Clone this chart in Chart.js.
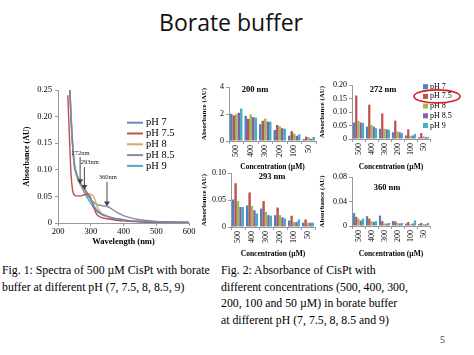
<!DOCTYPE html>
<html><head><meta charset="utf-8">
<script src="https://cdn.jsdelivr.net/npm/chart.js@4/dist/chart.umd.min.js"></script>
<style>
html,body{margin:0;padding:0;background:#fff;width:474px;height:355px;overflow:hidden;position:relative}
canvas{position:absolute}
.t{position:absolute;font-family:"Liberation Serif";color:#000;white-space:nowrap}
</style></head><body>
<div class="t" style="font-family:'Open Sans';font-size:23px;line-height:23px;left:0;width:462px;text-align:center;top:11px;color:#111">Borate buffer</div>
<canvas id="spec" width="200" height="170" style="left:0;top:78px"></canvas>
<canvas id="b200" width="124" height="94" style="left:198px;top:78px"></canvas>
<canvas id="b272" width="158" height="94" style="left:316px;top:78px"></canvas>
<canvas id="b293" width="124" height="94" style="left:198px;top:165px"></canvas>
<canvas id="b360" width="158" height="94" style="left:316px;top:165px"></canvas>
<div class="t" style="left:2px;top:262px;font-size:11.8px;line-height:16.5px">Fig. 1: Spectra of 500 µM CisPt with borate<br>buffer at different pH (7, 7.5, 8, 8.5, 9)</div>
<div class="t" style="left:221px;top:262px;font-size:11.8px;line-height:16.5px">Fig. 2: Absorbance of CisPt with<br>different concentrations (500, 400, 300,<br>200, 100 and 50 µM) in borate buffer<br>at different pH (7, 7.5, 8, 8.5 and 9)</div>
<div class="t" style="left:440px;top:333px;font-family:'Open Sans';font-size:9px;color:#555">5</div>
<script>
// ---------- data ----------
const phLabels = ['pH 7', 'pH 7.5', 'pH 8', 'pH 8.5', 'pH 9'];
const wavelengths = [230,235,240,245,250,255,260,265,270,275,280,285,290,295,300,305,310,315,320,330,340,350,360,370,380,400,420,450,500,550,600];
const specPH7   = [0.45,0.28,0.20,0.145,0.11,0.096,0.086,0.079,0.073,0.069,0.065,0.061,0.056,0.050,0.044,0.038,0.032,0.027,0.023,0.018,0.015,0.013,0.011,0.009,0.008,0.006,0.004,0.003,0.002,0.001,0.001];
const specPH75  = [0.24,0.16,0.09,0.06,0.053,0.051,0.051,0.051,0.051,0.052,0.053,0.054,0.054,0.052,0.047,0.038,0.028,0.020,0.015,0.011,0.009,0.008,0.007,0.006,0.005,0.004,0.003,0.002,0.001,0.001,0.001];
const specPH8   = [0.45,0.28,0.20,0.145,0.11,0.095,0.085,0.077,0.071,0.066,0.062,0.058,0.056,0.055,0.054,0.052,0.048,0.040,0.030,0.020,0.015,0.012,0.010,0.008,0.007,0.005,0.004,0.003,0.002,0.001,0.001];
const specPH85  = [0.45,0.28,0.20,0.145,0.112,0.097,0.087,0.080,0.074,0.067,0.061,0.056,0.052,0.048,0.044,0.041,0.038,0.036,0.035,0.033,0.032,0.031,0.028,0.024,0.020,0.014,0.010,0.006,0.003,0.002,0.001];
const specPH9   = [0.44,0.27,0.19,0.14,0.105,0.092,0.083,0.076,0.070,0.064,0.058,0.052,0.047,0.042,0.037,0.032,0.028,0.024,0.021,0.017,0.014,0.012,0.010,0.009,0.008,0.006,0.004,0.003,0.002,0.001,0.001];
const specArrows = [
  {text:'272nm', wl:266, top:0.124, tip:0.073, labelWl:269, labelY:0.131},
  {text:'293nm', wl:279, top:0.105, tip:0.062, labelWl:297, labelY:0.115},
  {text:'360nm', wl:348, top:0.077, tip:0.031, labelWl:352, labelY:0.086}
];
const concLabels = ['500','400','300','200','100','50'];
// rows: pH 7, 7.5, 8, 8.5, 9
const abs200 = [
  [2.02,1.86,1.25,0.82,0.39,0.14],
  [1.90,1.64,1.50,1.18,0.73,0.32],
  [1.98,1.98,1.66,1.09,0.55,0.27],
  [2.09,1.77,1.43,0.95,0.39,0.16],
  [2.40,1.73,1.43,0.90,0.50,0.30]
];
const abs272 = [
  [0.061,0.046,0.038,0.025,0.013,0.007],
  [0.161,0.127,0.095,0.068,0.036,0.022],
  [0.067,0.052,0.038,0.028,0.012,0.010],
  [0.061,0.046,0.036,0.025,0.013,0.007],
  [0.060,0.040,0.034,0.022,0.019,0.007]
];
const abs293 = [
  [0.051,0.040,0.034,0.022,0.012,0.008],
  [0.081,0.064,0.048,0.036,0.021,0.014],
  [0.048,0.039,0.028,0.022,0.009,0.008],
  [0.037,0.031,0.022,0.018,0.009,0.008],
  [0.037,0.025,0.021,0.016,0.014,0.008]
];
const abs360 = [
  [0.021,0.016,0.017,0.008,0.004,0.003],
  [0.015,0.012,0.008,0.0076,0.0065,0.005],
  [0.012,0.008,0.004,0.005,0.003,0.003],
  [0.009,0.0065,0.004,0.004,0.004,0.003],
  [0.012,0.008,0.005,0.005,0.009,0.005]
];
// ---------- styles ----------
const lineColors = ['#7088ad','#c0504d','#d8a866','#8e8a98','#4bacc6'];
const barColors  = ['#4f81bd','#c0504d','#9bbb59','#8064a2','#4bacc6'];
const SERIF = 'Liberation Serif';
const f = (size, bold) => ({family: SERIF, size, weight: bold ? 'bold' : 'normal'});

const overlay = {
  id: 'overlay',
  afterDraw(chart, args, o) {
    const ctx = chart.ctx, a = chart.chartArea;
    ctx.save();
    if (o.inner) {
      ctx.font = o.inner.font; ctx.fillStyle = '#000';
      ctx.textAlign = 'center'; ctx.textBaseline = 'middle';
      ctx.fillText(o.inner.text, a.left + o.inner.dx, a.top + o.inner.dy);
    }
    if (o.arrows) {
      const xs = chart.scales.x, ys = chart.scales.y;
      o.arrows.forEach(ar => {
        const x = xs.getPixelForValue(ar.wl), y1 = ys.getPixelForValue(ar.top), y2 = ys.getPixelForValue(ar.tip);
        ctx.strokeStyle = '#444'; ctx.fillStyle = '#444'; ctx.lineWidth = 1;
        ctx.beginPath(); ctx.moveTo(x + 0.5, y1); ctx.lineTo(x + 0.5, y2 - 4); ctx.stroke();
        ctx.beginPath(); ctx.moveTo(x + 0.5, y2); ctx.lineTo(x - 2.5, y2 - 5); ctx.lineTo(x + 3.5, y2 - 5); ctx.closePath(); ctx.fill();
        ctx.font = '6.5px "Liberation Serif"'; ctx.fillStyle = '#222';
        ctx.textAlign = 'center'; ctx.textBaseline = 'middle';
        ctx.fillText(ar.text, xs.getPixelForValue(ar.labelWl), ys.getPixelForValue(ar.labelY));
      });
    }
    if (o.legend) {
      const L = o.legend;
      chart.data.datasets.forEach((ds, i) => {
        const y = L.y + i * L.gap;
        if (L.kind === 'line') {
          ctx.strokeStyle = ds.borderColor; ctx.lineWidth = 2;
          ctx.beginPath(); ctx.moveTo(L.x, y); ctx.lineTo(L.x + L.len, y); ctx.stroke();
        } else {
          ctx.fillStyle = ds.backgroundColor;
          ctx.fillRect(L.x, y - L.len / 2, L.len, L.len);
        }
        ctx.fillStyle = '#000'; ctx.font = L.font;
        ctx.textAlign = 'left'; ctx.textBaseline = 'middle';
        ctx.fillText(ds.label, L.x + L.len + L.pad, y);
      });
      if (L.ring != null) {
        const y = L.y + L.ring * L.gap;
        ctx.strokeStyle = '#d42020'; ctx.lineWidth = 1.6;
        ctx.beginPath();
        ctx.ellipse(L.x + L.ringDx, y, L.ringRx, L.ringRy, 0, 0, Math.PI * 2);
        ctx.stroke();
      }
    }
    ctx.restore();
  }
};

// ---------- spectra chart ----------
const specSeries = [specPH7, specPH75, specPH8, specPH85, specPH9];
new Chart(document.getElementById('spec'), {
  type: 'line',
  data: {
    datasets: specSeries.map((s, i) => ({
      label: phLabels[i],
      data: wavelengths.map((w, j) => ({x: w, y: s[j]})),
      borderColor: lineColors[i], borderWidth: 1.4, pointRadius: 0,
      cubicInterpolationMode: 'monotone', fill: false
    }))
  },
  options: {
    responsive: false, animation: false,
    layout: {padding: {left: 22, right: 11, top: 12, bottom: 0}},
    plugins: {
      legend: {display: false}, tooltip: {enabled: false},
      overlay: {
        arrows: specArrows,
        legend: {kind: 'line', x: 127, y: 44.7, gap: 10.8, len: 16, pad: 3, font: '10.5px "Liberation Serif"'}
      }
    },
    scales: {
      x: {
        type: 'linear', min: 200, max: 600,
        ticks: {stepSize: 100, font: f(8.5), color: '#000', padding: 1},
        grid: {drawOnChartArea: false, tickLength: 3, color: '#999'},
        border: {color: '#999'},
        title: {display: true, text: 'Wavelength (nm)', font: f(8.5, true), color: '#000', padding: {top: 1, bottom: 1}},
        afterFit: s => { s.height = 25; }
      },
      y: {
        min: 0, max: 0.25,
        ticks: {stepSize: 0.05, font: f(8.5), color: '#000', padding: 3},
        grid: {drawOnChartArea: false, tickLength: 3, color: '#999'},
        border: {color: '#999'},
        title: {display: true, text: 'Absorbance (AU)', font: f(8, true), color: '#000', padding: {top: 0, bottom: 1}},
        afterFit: s => { s.width = 36; }
      }
    }
  },
  plugins: [overlay]
});

// ---------- bar charts ----------
function barChart(id, rows, opt) {
  return new Chart(document.getElementById(id), {
    type: 'bar',
    data: {
      labels: concLabels,
      datasets: rows.map((r, i) => ({
        label: phLabels[i], data: r, backgroundColor: barColors[i],
        borderWidth: 0, categoryPercentage: 0.86, barPercentage: 1.0
      }))
    },
    options: {
      responsive: false, animation: false,
      layout: {padding: opt.pad},
      plugins: {
        legend: {display: false}, tooltip: {enabled: false},
        overlay: {inner: {text: opt.title, dx: opt.tdx, dy: opt.tdy, font: 'bold 8.5px "Liberation Serif"'}, legend: opt.legend}
      },
      scales: {
        x: {
          ticks: {font: f(8), color: '#000', minRotation: 90, maxRotation: 90, padding: 1, autoSkip: false},
          grid: {drawOnChartArea: false, tickLength: 3, color: '#999'},
          border: {color: '#999'},
          title: {display: true, text: 'Concentration (µM)', font: f(7.5, true), color: '#000', padding: {top: 1, bottom: 0}},
          afterFit: s => { s.height = opt.xh; }
        },
        y: {
          min: 0, max: opt.max,
          ticks: {stepSize: opt.step, font: f(8), color: '#000', padding: 2},
          grid: {drawOnChartArea: false, tickLength: 3, color: '#999'},
          border: {color: '#999'},
          title: {display: true, text: 'Absorbance (AU)', font: f(7, true), color: '#000', padding: {top: 0, bottom: 1}},
          afterFit: s => { s.width = opt.yw; }
        }
      }
    },
    plugins: [overlay]
  });
}

barChart('b200', abs200, {max: 4, step: 2, pad: {left: 2, right: 6, top: 9, bottom: 0}, yw: 29, xh: 31, title: '200 nm', tdx: 26, tdy: 3});
barChart('b272', abs272, {max: 0.2, step: 0.05, pad: {left: 2, right: 44, top: 7, bottom: 0}, yw: 34, xh: 33, title: '272 nm', tdx: 31, tdy: 5,
  legend: {kind: 'box', x: 107, y: 8.7, gap: 9.7, len: 5, pad: 2, font: '8px "Liberation Serif"', ring: 1, ringDx: 14, ringRx: 23, ringRy: 6.5}});
barChart('b293', abs293, {max: 0.1, step: 0.05, pad: {left: 2, right: 7, top: 8, bottom: 0}, yw: 31, xh: 32, title: '293 nm', tdx: 41, tdy: 4});
barChart('b360', abs360, {max: 0.08, step: 0.04, pad: {left: 2, right: 44, top: 12, bottom: 0}, yw: 34, xh: 33, title: '360 nm', tdx: 35, tdy: 11});
</script>
</body></html>
